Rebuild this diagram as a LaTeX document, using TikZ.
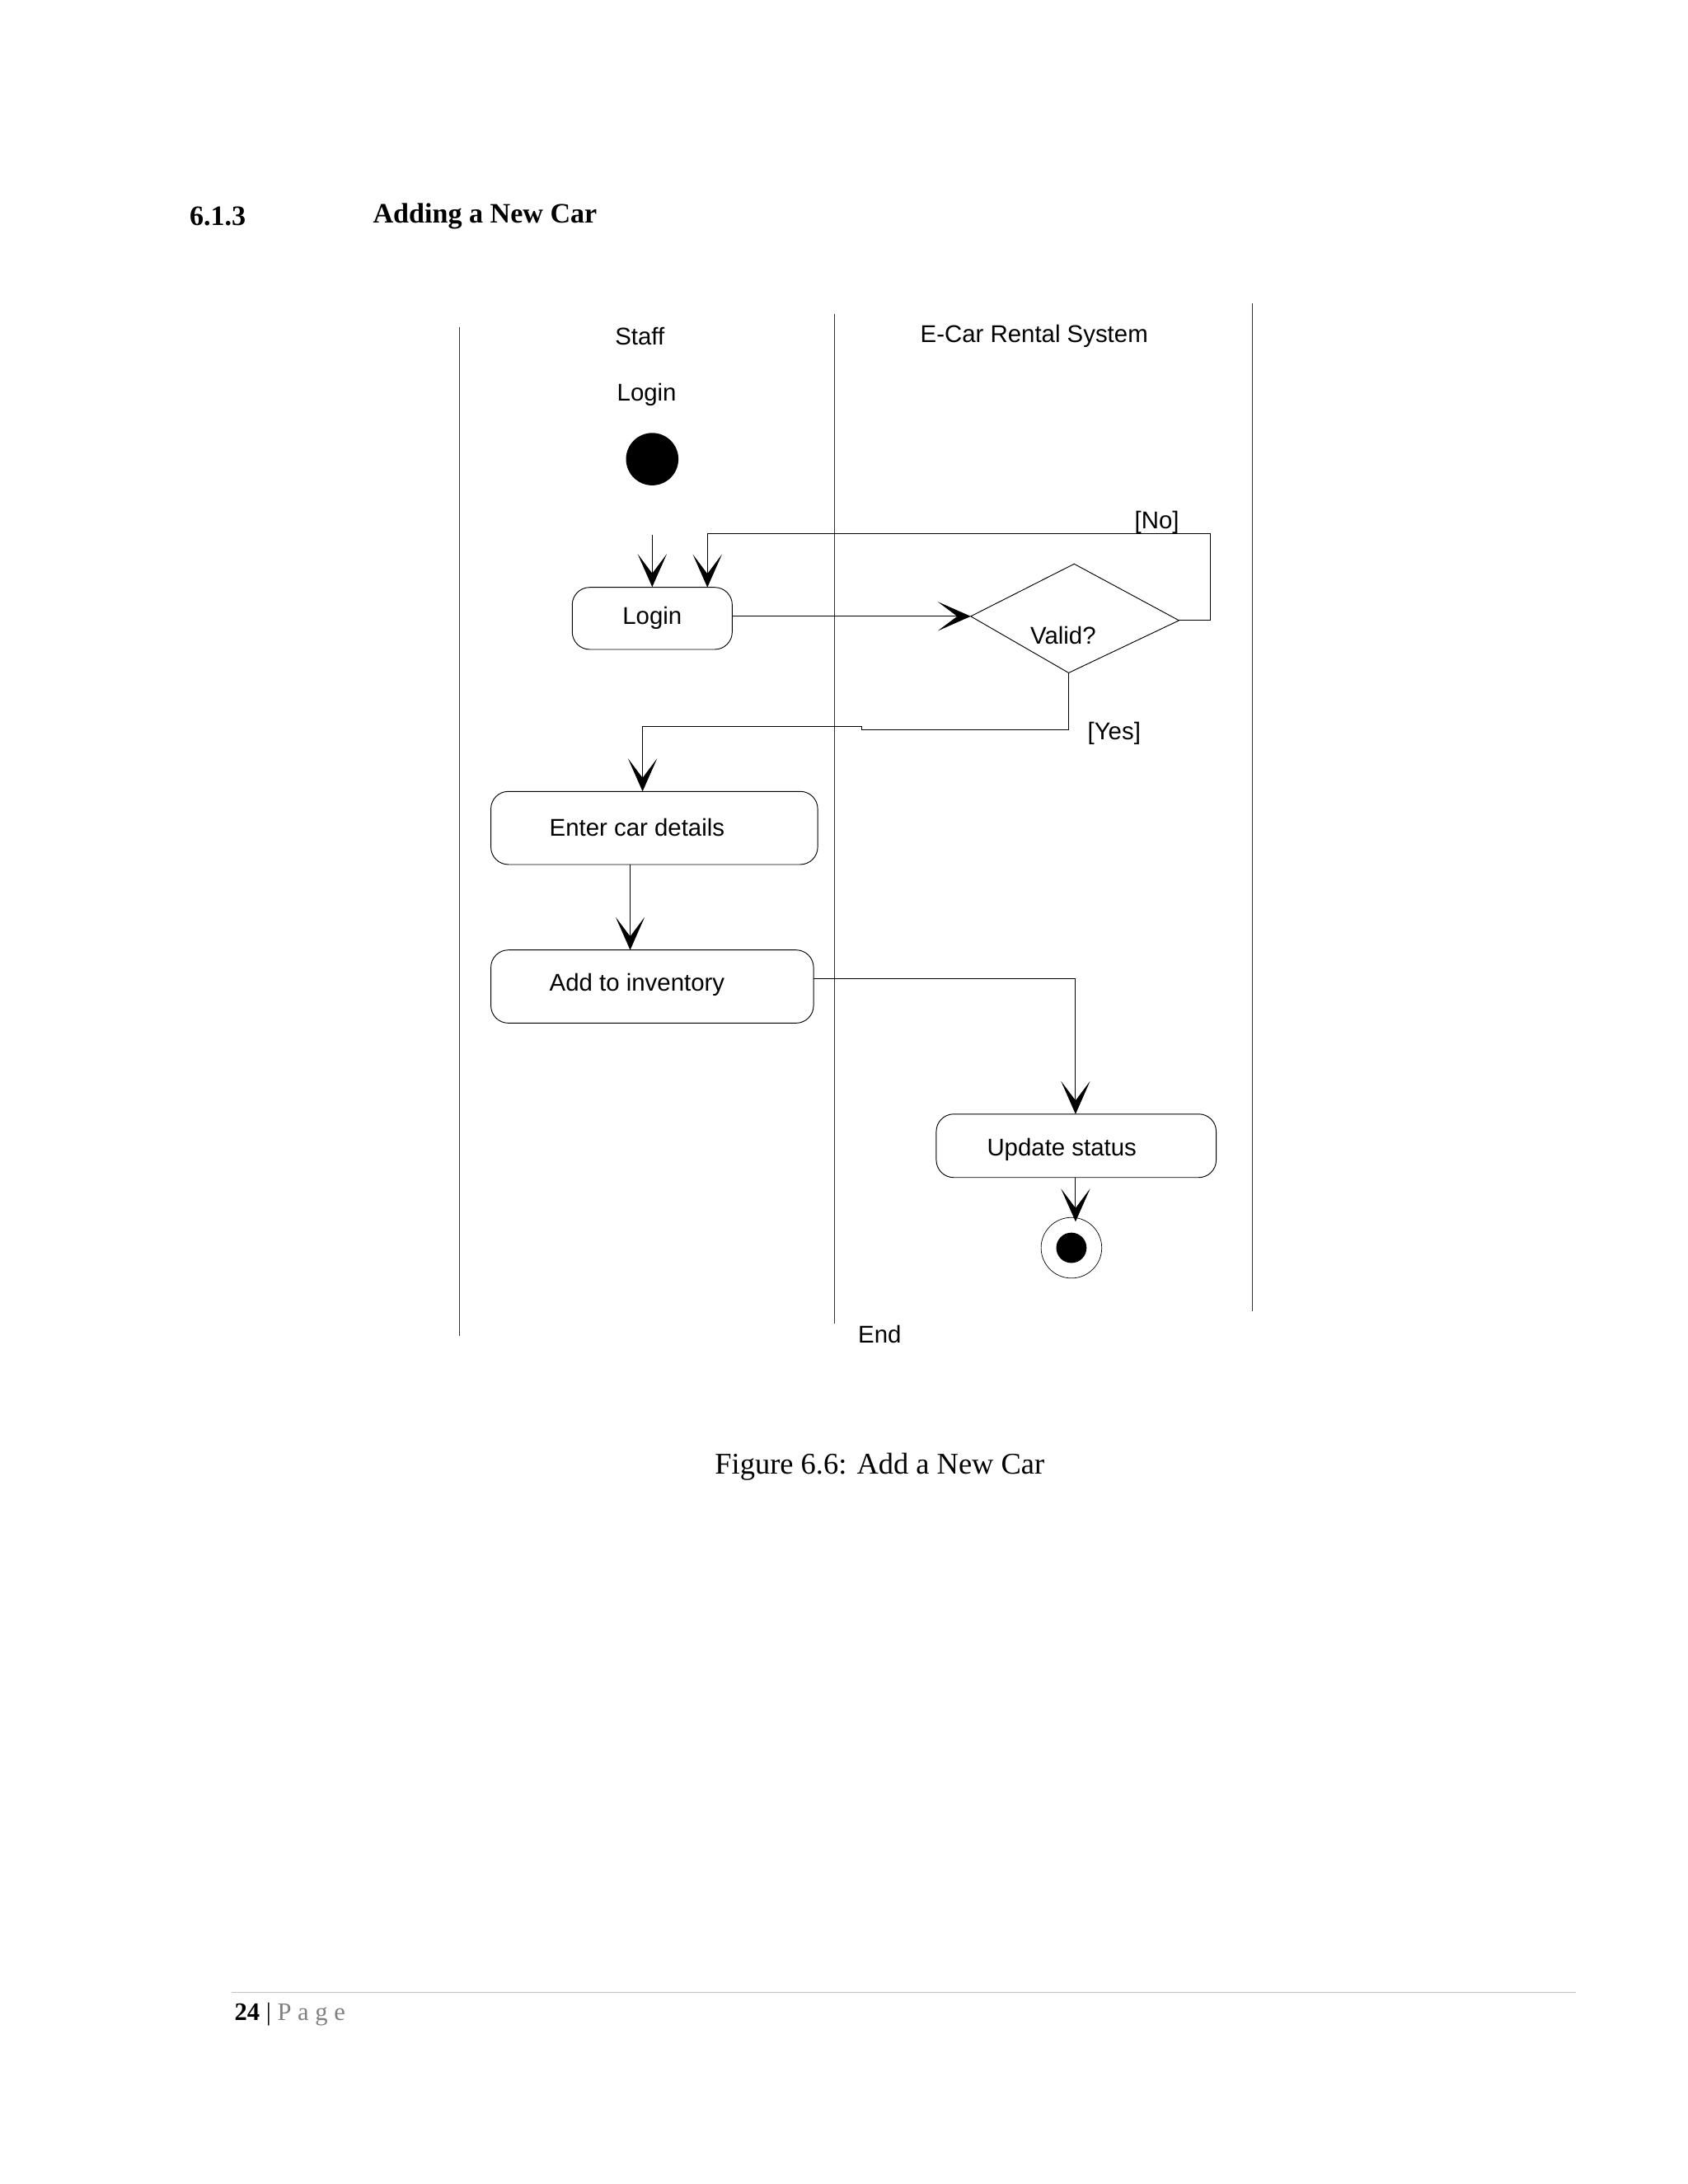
\documentclass[tikz,border=0pt]{standalone}
\usepackage{fontspec}
\setmainfont{Liberation Serif}
\newfontfamily\diag{Liberation Sans}
\usetikzlibrary{arrows.meta}
\begin{document}
\begin{tikzpicture}[x=0.05cm,y=-0.05cm,
  lbl/.style={font=\diag\fontsize{25}{28}\selectfont,inner sep=0pt},
  act/.style={draw,rounded corners=18pt,line width=0.8pt},
  flow/.style={line width=0.8pt,-{Stealth[length=34pt,width=30pt,inset=20pt]}},
  lane/.style={line width=0.8pt,draw=black!80}]
\useasboundingbox (0,0) rectangle (1224,1584);
\node[anchor=west,font=\bfseries\fontsize{29}{32}\selectfont] (h1) at (135,157) {6.1.3};
\node[anchor=west,font=\bfseries\fontsize{29}{32}\selectfont] (h2) at (268,157) {Adding a New Car};
\draw[lane] (333,237) -- (333,969);
\draw[lane] (605,228) -- (605,960);
\draw[lane] (908,220) -- (908,951);
\node[lbl] (staff) at (464,244) {Staff};
\node[lbl] (sys) at (750,244) {E-Car Rental System};
\node[lbl] (lg) at (469,286) {Login};
\node[circle,fill=black,minimum size=38\pgflinewidth,inner sep=0pt] (start) at (473,333) {};
\fill (473,333) circle (19);
\coordinate (s1) at (473,388);
\node[act,minimum width=116*0.05cm,minimum height=45*0.05cm,lbl] (login) at (473,448.5) {Login};
\draw[line width=0.8pt] (704,447) -- (779,409) -- (855,450) -- (775,488) -- cycle;
\coordinate (dl) at (704,447); \coordinate (dr) at (855,450); \coordinate (db) at (775,488);
\node[lbl] (valid) at (771,461) {Valid?};
\draw[flow] (s1) -- (login.north);
\draw[flow] (login.east |- dl) -- (dl);
\draw[flow] (dr) -- (878,450) -- (878,387) -- (513,387) -- (513,426);
\node[lbl] (no) at (839,379) {[No]};
\node[act,minimum width=237*0.05cm,minimum height=53*0.05cm] (enter) at (474.5,600.5) {};
\node[lbl] (entert) at (462,600) {Enter car details};
\draw[flow] (db) -- (775,529) -- (625,529) -- (625,527) -- (466,527) -- (466,574);
\node[lbl] (yes) at (808,532) {[Yes]};
\node[act,minimum width=234*0.05cm,minimum height=53*0.05cm] (add) at (473,715.5) {};
\node[lbl] (addt) at (462,714) {Add to inventory};
\draw[flow] (457,627) -- (457,689);
\node[act,minimum width=203*0.05cm,minimum height=46*0.05cm] (upd) at (780.5,831) {};
\node[lbl] (updt) at (770,834) {Update status};
\draw[flow] (590,710) -- (780,710) -- (780,808);
\draw[line width=0.6pt] (777,905) circle (22);
\fill (777,905) circle (11);
\coordinate (endc) at (780,886);
\draw[flow] (780,854) -- (endc);
\node[lbl] (end) at (638,968) {End};
\node[font=\fontsize{31}{34}\selectfont] (cap) at (638,1064) {Figure 6.6: Add a New Car};
\draw[black!25,line width=0.8pt] (168,1445) -- (1143,1445);
\node[anchor=west,inner sep=0pt,font=\fontsize{26}{30}\selectfont] (pg) at (170,1461) {\textbf{24} | \textcolor{black!50}{P a g e}};
\end{tikzpicture}
\end{document}
